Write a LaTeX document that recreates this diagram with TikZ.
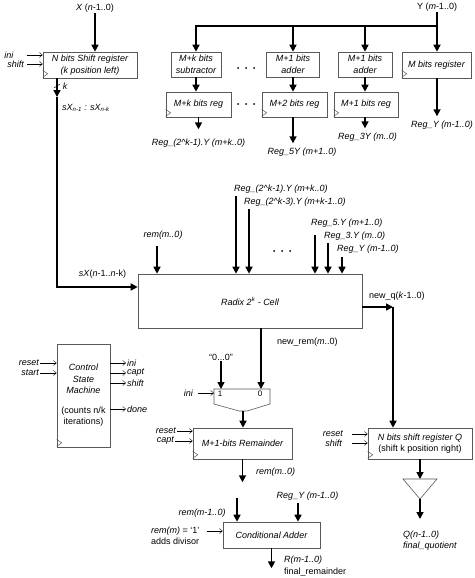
\documentclass[tikz,border=0pt]{standalone}
\usepackage{fontspec}
\setmainfont{Liberation Sans}
\usepackage{tikz}
\usetikzlibrary{arrows.meta, calc, positioning}

\newcommand{\fsz}{\fontsize{9}{11.5}\selectfont}
\newcommand{\clock}[1]{\draw[black!65, line width=0.5pt] ($(#1.south west)+(0,-1)$) -- ++(5,-3.5) -- ++(-5,-3.5);}

\begin{document}
\begin{tikzpicture}[x=1pt, y=-1pt]
  \tikzstyle{blk} = [draw=black!65, line width=0.6pt, align=center, inner sep=1pt, font=\fsz\itshape]
  \tikzstyle{bus} = [line width=1.6pt, -{Triangle[length=7pt, width=7pt]}]
  \tikzstyle{ctl} = [line width=0.4pt, -{Straight Barb[length=3pt, width=5pt]}]
  \tikzstyle{lbl} = [inner sep=1pt, font=\fsz\itshape]
  \tikzstyle{txt} = [inner sep=1pt, font=\fsz]
  \useasboundingbox (0,0) rectangle (474,578);

  % blocks
  \node[blk, minimum width=94pt, minimum height=26pt] (sreg) at (90,65) {N bits Shift register\\(k position left)};
  \node[blk, minimum width=50pt, minimum height=25pt] (sub) at (196,64.5) {M+k bits\\subtractor};
  \node[blk, minimum width=53pt, minimum height=25pt] (add1) at (293,64.5) {M+1 bits\\adder};
  \node[blk, minimum width=54pt, minimum height=25pt] (add2) at (365,64.5) {M+1 bits\\adder};
  \node[blk, minimum width=69pt, minimum height=26pt] (mreg) at (436.5,65) {M bits register};
  \node[blk, minimum width=65pt, minimum height=25pt] (regk) at (198.5,104.5) {M+k bits reg};
  \node[blk, minimum width=65pt, minimum height=25pt] (reg2) at (294.5,104.5) {M+2 bits reg};
  \node[blk, minimum width=64pt, minimum height=25pt] (reg1) at (366,104.5) {M+1 bits reg};
  \node[blk, minimum width=224pt, minimum height=54pt] (radix) at (250,301) {Radix 2\textsuperscript{k} - Cell};
  \node[blk, minimum width=53pt, minimum height=103pt] (csm) at (83.5,395.5)
    {Control\\State\\Machine\\[8pt]\upshape (counts n/k\\\upshape iterations)};
  \node[blk, minimum width=99pt, minimum height=31pt] (rbox) at (242.5,443.5) {M+1-bits Remainder};
  \node[blk, minimum width=104pt, minimum height=31pt] (qreg) at (420,443.5)
    {N bits shift register Q\\\upshape (shift k position right)};
  \node[blk, minimum width=97pt, minimum height=26pt] (cadd) at (271.5,535) {Conditional Adder};
  \foreach \b in {sreg, mreg, regk, reg2, reg1, csm, rbox, qreg} {\clock{\b}}

  % dividend X
  \node[txt] (xin) at (95,8) {\textit{X} (\textit{n}-1..0)};
  \draw[bus] (xin.south) -- (xin.south |- sreg.north);
  \node[lbl, inner sep=0pt] (sini) at (9,55) {ini};
  \node[lbl, inner sep=0pt, anchor=east] (ssh) at (24,64) {shift};
  \draw[ctl, shorten <=13pt] (sini) -- (sreg.west |- sini);
  \draw[ctl, shorten <=3pt] (ssh) -- (sreg.west |- ssh);
  \coordinate (sxk) at (57,97);
  \coordinate (sxc) at (57,287);
  \draw[bus] (sreg.south -| sxk) -- (sxk);
  \draw[bus] (sxk) -- (sxc) -- (radix.west |- sxc);
  \draw[line width=0.5pt] (54,88) -- (60,84);
  \node[lbl] (kw) at (65,86) {k};
  \node[lbl, anchor=west] (sxs) at (61,108) {sX\textsubscript{n-1} : sX\textsubscript{n-k}};
  \node[txt] (sxl) at (102.5,274) {\textit{sX}(\textit{n}-1..\textit{n}-k)};

  % divisor Y and multiples
  \node[txt] (yin) at (437,7) {Y (\textit{m}-1..0)};
  \coordinate (yj) at (437,26);
  \coordinate (yc) at (196,26);
  \draw[bus] (yin.south) -- (yin.south |- mreg.north);
  \draw[bus] (yj) -- (yc) -- (yc |- sub.north);
  \draw[bus] (add1.north |- yj) -- (add1.north);
  \draw[bus] (add2.north |- yj) -- (add2.north);
  \draw[bus] (sub.south) -- (sub.south |- regk.north);
  \draw[bus] (add1.south) -- (add1.south |- reg2.north);
  \draw[bus] (add2.south) -- (add2.south |- reg1.north);
  \foreach \d in {0,1,2} {
    \fill (238+8*\d,68) circle (1);
    \fill (238+8*\d,104) circle (1);
    \fill (274+8*\d,251) circle (1);
  }
  \draw[bus] (regk.south) -- ++(0,12);
  \node[lbl] (lrk) at (198.5,143) {Reg\_(2\textasciicircum k-1).Y (m+k..0)};
  \draw[bus] (reg2.south -| add1) -- ++(0,26);
  \node[lbl] (lr2) at (302,152) {Reg\_5Y (m+1..0)};
  \draw[bus] (reg1.south -| add2) -- ++(0,11);
  \node[lbl] (lr1) at (367.5,137) {Reg\_3Y (m..0)};
  \draw[bus] (mreg.south -| yj) -- ++(0,38);
  \node[lbl] (lry) at (442,125) {Reg\_Y (m-1..0)};

  % radix cell inputs
  \node[lbl] (lrem) at (163,235) {rem(m..0)};
  \node[lbl, anchor=west] (lb) at (233,189) {Reg\_(2\textasciicircum k-1).Y (m+k..0)};
  \node[lbl, anchor=west] (lc) at (243,202) {Reg\_(2\textasciicircum k-3).Y (m+k-1..0)};
  \node[lbl, anchor=west] (ld) at (310,223) {Reg\_5.Y (m+1..0)};
  \node[lbl, anchor=west] (le) at (323,236) {Reg\_3.Y (m..0)};
  \node[lbl, anchor=west] (lf) at (336,249) {Reg\_Y (m-1..0)};
  \foreach \n/\x/\y in {a/157/246, b/236/196, c/249/209, d/315/235, e/328/243, f/342/257} {
    \coordinate (r\n) at (\x,\y);
    \draw[bus] (r\n) -- (r\n |- radix.north);
  }

  % quotient path
  \coordinate (qc) at (393,307);
  \draw[bus] (radix.east |- qc) -- (qc);
  \draw[bus] (qc) -- (qc |- qreg.north);
  \node[txt, anchor=west] (nq) at (368,296) {new\_q(\textit{k}-1..0)};
  \node[lbl, anchor=east] (qrst) at (344,434) {reset};
  \node[lbl, anchor=east] (qsh) at (343,443) {shift};
  \draw[ctl, shorten <=8pt] (qrst) -- (qreg.west |- qrst);
  \draw[ctl, shorten <=9pt] (qsh) -- (qreg.west |- qsh);
  \coordinate (buf) at (420,479);
  \coordinate (bufo) at (420,499);
  \draw[bus] (qreg.south) -- (buf);
  \draw[black!65, line width=0.6pt] (buf) +(-17,0) -- +(17,0) -- +(0,20) -- cycle;
  \draw[bus] (bufo) -- ++(0,20);
  \node[lbl, anchor=west] (qo) at (402,535) {Q(n-1..0)};
  \node[lbl, anchor=west] (qf) at (402,546) {final\_quotient};

  % control state machine
  \node[lbl, anchor=east] (crst) at (40,363) {reset};
  \node[lbl, anchor=east] (cst) at (40,373) {start};
  \draw[ctl] (crst) -- (csm.west |- crst);
  \draw[ctl] (cst) -- (csm.west |- cst);
  \foreach \n/\t/\y in {cini/ini/363, ccap/capt/373, cshf/shift/383, cdone/done/409} {
    \node[lbl, anchor=west] (\n) at (126,\y) {\t};
    \draw[ctl] (csm.east |- \n) -- (\n);
  }

  % remainder multiplexer
  \draw[black!65, line width=0.6pt] (214,389) -- (270,389) -- (270,404) -- (247,411) -- (239,411) -- (214,404) -- cycle;
  \coordinate (mux1) at (221,389);
  \coordinate (mux0) at (261,389);
  \coordinate (muxs) at (214,393);
  \coordinate (muxo) at (243,411);
  \node[txt, font=\fontsize{8}{9}\selectfont] (m1) at (220,394) {1};
  \node[txt, font=\fontsize{8}{9}\selectfont] (m0) at (260,394) {0};
  \node[txt] (zz) at (221,357) {``0...0''};
  \draw[bus] (zz.south -| mux1) -- (mux1);
  \draw[bus] (radix.south -| mux0) -- (mux0);
  \node[txt, anchor=west] (nrem) at (276,342) {new\_rem(\textit{m}..0)};
  \node[lbl, anchor=east] (mini) at (194,393) {ini};
  \draw[ctl, shorten <=4pt] (mini) -- (muxs);
  \draw[bus] (muxo) -- (muxo |- rbox.north);
  \node[lbl, anchor=east] (rrst) at (177,431) {reset};
  \node[lbl, anchor=east] (rcap) at (175,441) {capt};
  \draw[ctl] (rrst) -- (rbox.west |- rrst);
  \draw[ctl] (rcap) -- (rbox.west |- rcap);
  \draw[bus] (rbox.south) -- ++(0,23);
  \node[lbl, anchor=west] (rmo) at (255,472) {rem(m..0)};

  % final correction
  \node[lbl] (rml) at (202,513) {rem(m-1..0)};
  \node[lbl] (ryl) at (307.5,496) {Reg\_Y (m-1..0)};
  \coordinate (ca1) at (237,498);
  \coordinate (ca2) at (298,503);
  \draw[bus] (ca1) -- (ca1 |- cadd.north);
  \draw[bus] (ca2) -- (ca2 |- cadd.north);
  \node[lbl, anchor=west] (rm1) at (150,531) {rem(m) {\upshape = `1'}};
  \node[txt, anchor=west] (rm2) at (150,541) {adds divisor};
  \draw[ctl, shorten <=6pt] (rm1) -- (cadd.west |- rm1);
  \draw[bus] (cadd.south) -- ++(0,20);
  \node[lbl, anchor=west] (rf) at (283,560) {R(m-1..0)};
  \node[txt, anchor=west] (rf2) at (283,572) {final\_remainder};
\end{tikzpicture}
\end{document}
